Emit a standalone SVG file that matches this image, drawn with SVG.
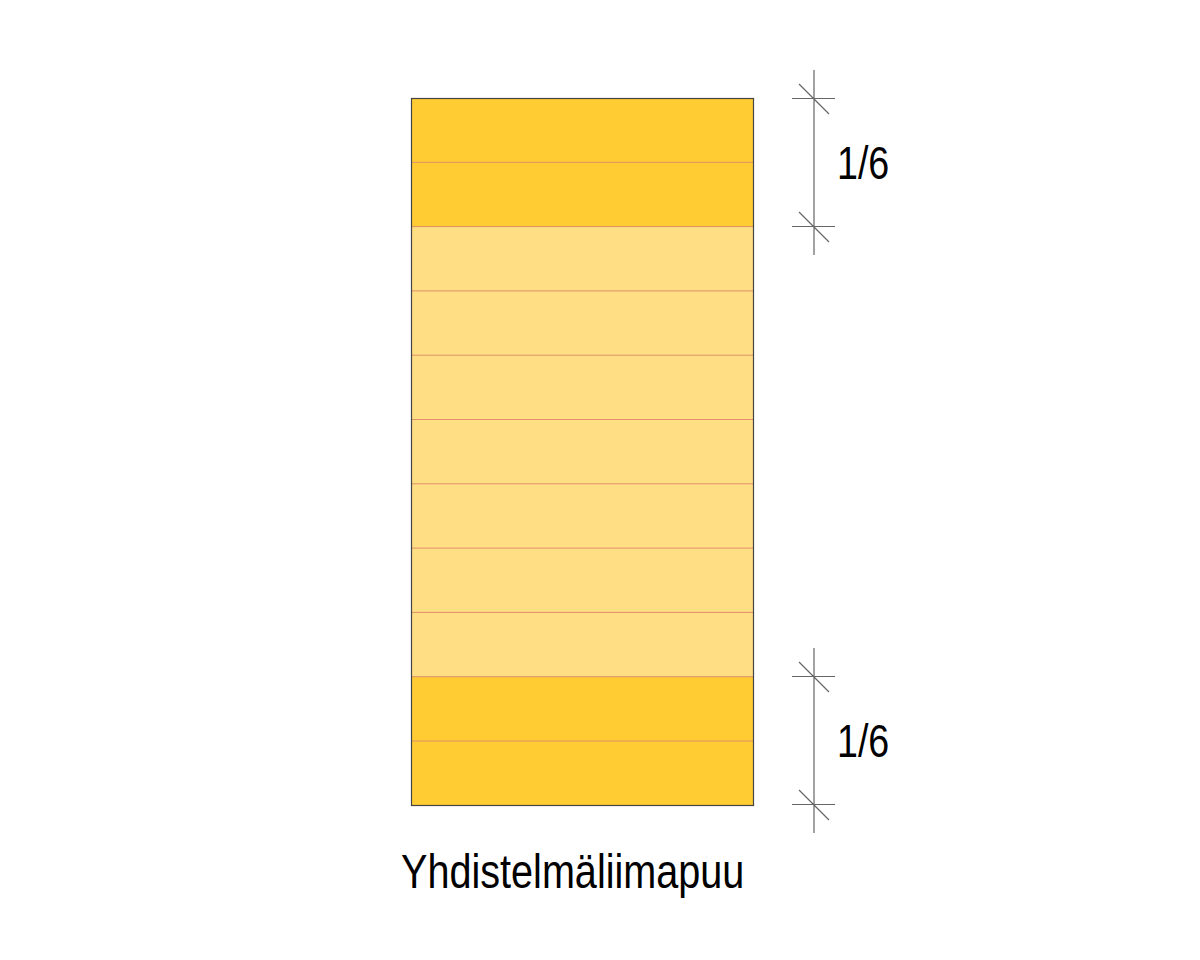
<svg xmlns="http://www.w3.org/2000/svg" width="1200" height="960" viewBox="0 0 1200 960">
<style>
.dark{fill:#FFCC33}
.light{fill:#FFDE84}
.sep{stroke:#E0906A;stroke-width:1}
.dim{stroke:#666;stroke-width:1.2;fill:none}
.lbl{font-family:"Liberation Sans",Arial,sans-serif;fill:#000}
</style>
<rect width="1200" height="960" fill="#fff"/>
<g id="beam">
<rect class="dark" x="411" y="98" width="342" height="129"/>
<rect class="light" x="411" y="227" width="342" height="450"/>
<rect class="dark" x="411" y="677" width="342" height="128"/>
<g class="sep">
<line x1="411" y1="162.3" x2="753" y2="162.3"/>
<line x1="411" y1="226.6" x2="753" y2="226.6"/>
<line x1="411" y1="290.9" x2="753" y2="290.9"/>
<line x1="411" y1="355.2" x2="753" y2="355.2"/>
<line x1="411" y1="419.5" x2="753" y2="419.5"/>
<line x1="411" y1="483.8" x2="753" y2="483.8"/>
<line x1="411" y1="548.1" x2="753" y2="548.1"/>
<line x1="411" y1="612.4" x2="753" y2="612.4"/>
<line x1="411" y1="676.7" x2="753" y2="676.7"/>
<line x1="411" y1="741" x2="753" y2="741"/>
</g>
<rect x="411.5" y="98.5" width="342" height="707" fill="none" stroke="#444" stroke-width="1.2"/>
</g>
<g id="dim-top">
<path class="dim" d="M814 70V255M792 98.5H835M792 226.5H835M799 84L829 114M799 212L829 242"/>
<text class="lbl" font-size="47" transform="translate(837 179) scale(0.8 1)">1/6</text>
</g>
<g id="dim-bottom">
<path class="dim" d="M814 648V833M792 676.5H835M792 804.5H835M799 662L829 692M799 790L829 820"/>
<text class="lbl" font-size="47" transform="translate(837 757) scale(0.8 1)">1/6</text>
</g>
<g id="caption">
<text class="lbl" font-size="48" transform="translate(401 888) scale(0.825 1)">Yhdistelmäliimapuu</text>
</g>
</svg>
